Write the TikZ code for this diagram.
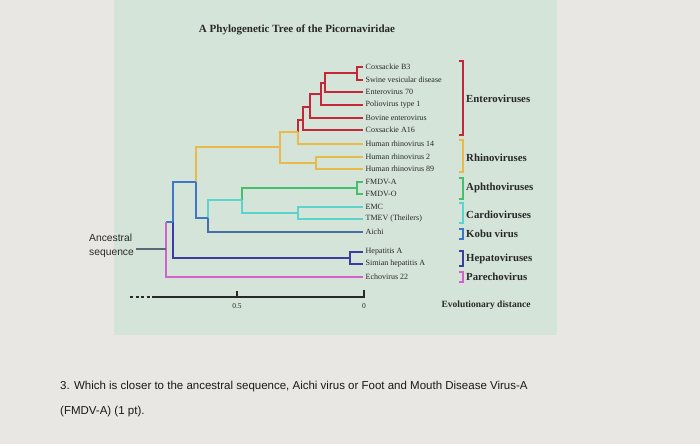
\documentclass[tikz,border=0pt]{standalone}
\usepackage{fontspec}
\setmainfont{Liberation Serif}
\newfontfamily\labelsans{Liberation Sans}
\usetikzlibrary{positioning}

\definecolor{pagegrey}{RGB}{233,231,227}
\definecolor{panelgreen}{RGB}{212,228,216}
\definecolor{entero}{RGB}{196,40,56}
\definecolor{rhino}{RGB}{232,186,74}
\definecolor{aphtho}{RGB}{70,190,108}
\definecolor{cardio}{RGB}{92,212,204}
\definecolor{kobu}{RGB}{72,110,164}
\definecolor{backbone}{RGB}{62,120,196}
\definecolor{hepato}{RGB}{60,62,158}
\definecolor{parecho}{RGB}{214,96,204}
\definecolor{ancgrey}{RGB}{92,102,116}
\definecolor{inkgrey}{RGB}{40,40,40}

\tikzset{
  branch/.style={line width=2pt},
  leaf/.style={anchor=west, inner sep=2.5pt, text=inkgrey, font=\fontsize{8}{9}\selectfont},
  group/.style={anchor=west, inner sep=1pt, text=inkgrey, font=\bfseries\fontsize{10.8}{12}\selectfont},
  bracket/.style={line width=1.5pt},
  question/.style={anchor=west, inner sep=0pt, text=black!90, font=\labelsans\fontsize{11.5}{14}\selectfont}
}

\begin{document}
\begin{tikzpicture}[x=1pt,y=-1pt]
\useasboundingbox (0,0) rectangle (700,444);
\fill[pagegrey] (0,0) rectangle (700,444);
\fill[panelgreen] (114,0) rectangle (557,335);

% title
\node[font=\bfseries\fontsize{11}{13}\selectfont, text=inkgrey] (title) at (297,30) {A Phylogenetic Tree of the Picornaviridae};

% leaves
\node[leaf] (cb3) at (363,67) {Coxsackie B3};
\node[leaf] (svd) at (363,80) {Swine vesicular disease};
\node[leaf] (ev70) at (363,92) {Enterovirus 70};
\node[leaf] (polio) at (363,105) {Poliovirus type 1};
\node[leaf] (bev) at (363,118) {Bovine enterovirus};
\node[leaf] (ca16) at (363,130) {Coxsackie A16};
\node[leaf] (hrv14) at (363,144) {Human rhinovirus 14};
\node[leaf] (hrv2) at (363,157) {Human rhinovirus 2};
\node[leaf] (hrv89) at (363,169) {Human rhinovirus 89};
\node[leaf] (fmdva) at (363,182) {FMDV-A};
\node[leaf] (fmdvo) at (363,194) {FMDV-O};
\node[leaf] (emc) at (363,207) {EMC};
\node[leaf] (tmev) at (363,219) {TMEV (Theilers)};
\node[leaf] (aichi) at (363,232) {Aichi};
\node[leaf] (hepa) at (363,252) {Hepatitis A};
\node[leaf] (shepa) at (363,264) {Simian hepatitis A};
\node[leaf] (echo) at (363,277) {Echovirus 22};

% branch points
\coordinate (e1) at (357,73);
\coordinate (e2) at (325,83);
\coordinate (e3) at (321,94);
\coordinate (e4) at (310,107);
\coordinate (e5) at (303,120);
\coordinate (e6) at (298,132);
\coordinate (r1) at (316,163);
\coordinate (r2) at (280,147);
\coordinate (a1) at (357,188);
\coordinate (c1) at (298,213);
\coordinate (c2) at (242,200);
\coordinate (k1) at (208,218);
\coordinate (p1) at (196,182);
\coordinate (h1) at (350,258);
\coordinate (p2) at (173,222);
\coordinate (root) at (166,249);
\coordinate (anc) at (136,249);

\begin{scope}[branch]
% enteroviruses
\draw[entero] (e1) |- (cb3.west);
\draw[entero] (e1) |- (svd.west);
\draw[entero] (e2) |- (e1);
\draw[entero] (e2) |- (ev70.west);
\draw[entero] (e3) |- (e2);
\draw[entero] (e3) |- (polio.west);
\draw[entero] (e4) |- (e3);
\draw[entero] (e4) |- (bev.west);
\draw[entero] (e5) |- (e4);
\draw[entero] (e5) |- (ca16.west);
\draw[entero] (e6) |- (e5);
% rhinoviruses
\draw[rhino] (e6) |- (hrv14.west);
\draw[rhino] (r1) |- (hrv2.west);
\draw[rhino] (r1) |- (hrv89.west);
\draw[rhino] (r2) |- (e6);
\draw[rhino] (r2) |- (r1);
\draw[rhino] (p1) |- (r2);
% aphtho and cardio
\draw[aphtho] (a1) |- (fmdva.west);
\draw[aphtho] (a1) |- (fmdvo.west);
\draw[cardio] (c1) |- (emc.west);
\draw[cardio] (c1) |- (tmev.west);
\draw[aphtho] (c2) |- (a1);
\draw[cardio] (c2) |- (c1);
\draw[cardio] (k1) |- (c2);
\draw[kobu] (k1) |- (aichi.west);
\draw[backbone] (p1) |- (k1);
% hepato
\draw[hepato] (h1) |- (hepa.west);
\draw[hepato] (h1) |- (shepa.west);
\draw[hepato] (p2) |- (h1);
\draw[backbone] (p2) |- (p1);
% root
\draw[backbone] (root |- p2) -- (p2);
\draw[parecho] (root |- p2) |- (echo.west);
\draw[ancgrey] (anc) -- (root);
\end{scope}

% group brackets and names
\draw[entero, bracket] (459,61) -| (463,135) -- (459,135);
\draw[rhino, bracket] (459,140) -| (463,172) -- (459,172);
\draw[aphtho, bracket] (459,178) -| (463,199) -- (459,199);
\draw[cardio, bracket] (459,203) -| (463,223) -- (459,223);
\draw[backbone, bracket] (459,229) -| (463,239) -- (459,239);
\draw[hepato, bracket] (459,251) -| (463,266) -- (459,266);
\draw[parecho, bracket] (459,272) -| (463,282) -- (459,282);
\node[group] (enteroname) at (465,99) {Enteroviruses};
\node[group] (rhinoname) at (465,158) {Rhinoviruses};
\node[group] (aphthoname) at (465,188) {Aphthoviruses};
\node[group] (cardioname) at (465,215) {Cardioviruses};
\node[group] (kobuname) at (465,234) {Kobu virus};
\node[group] (hepatoname) at (465,259) {Hepatoviruses};
\node[group] (parechoname) at (465,277) {Parechovirus};

% ancestral sequence
\node[anchor=west, inner sep=0pt, text=inkgrey, font=\labelsans\fontsize{10.3}{12}\selectfont] (ancname) at (89,238) {Ancestral};
\node[anchor=west, inner sep=0pt, text=inkgrey, font=\labelsans\fontsize{10.3}{12}\selectfont] (seqname) at (89,254) {sequence};

% distance scale
\coordinate (axl) at (130,297);
\coordinate (axs) at (152,297);
\coordinate (axm) at (237,297);
\coordinate (axr) at (364,297);
\draw[inkgrey, line width=1.6pt, dash pattern=on 3pt off 2.5pt] (axl) -- (axs);
\draw[inkgrey, line width=1.6pt] (axs) -- (axr) -- ++(0,-7);
\draw[inkgrey, line width=1.2pt] (axm) -- ++(0,-6);
\node[text=inkgrey, font=\fontsize{7.5}{9}\selectfont] (half) at (237,306) {0.5};
\node[text=inkgrey, font=\fontsize{7.5}{9}\selectfont] (zero) at (364,306) {0};
\node[text=inkgrey, font=\bfseries\fontsize{9.5}{11}\selectfont] (distname) at (486,305) {Evolutionary distance};

% question
\node[question] (q1) at (60,387) {3. Which is closer to the ancestral sequence, Aichi virus or Foot and Mouth Disease Virus-A};
\node[question] (q2) at (60,412) {(FMDV-A) (1 pt).};
\end{tikzpicture}
\end{document}
